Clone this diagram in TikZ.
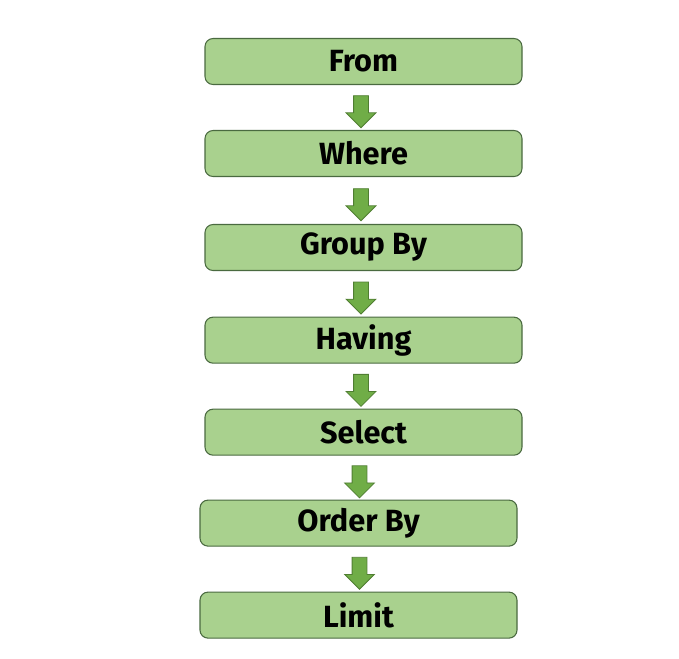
\documentclass[tikz,border=0pt]{standalone}
\usepackage{fontspec}
\setmainfont{Fira Sans}
\usetikzlibrary{shapes.arrows,positioning,calc}
\definecolor{boxfill}{HTML}{A9D18E}
\definecolor{boxline}{HTML}{4A6A40}
\definecolor{arrfill}{HTML}{70AD47}
\definecolor{arrline}{HTML}{507E32}

\begin{document}
\begin{tikzpicture}
		[x=0.75pt, y=-0.75pt,
		boxsty/.style={draw=boxline, fill=boxfill, line width=0.8pt,
			rounded corners=6pt, minimum width=237.75pt, minimum height=34.5pt,
			font=\fontsize{23}{23}\selectfont\bfseries},
		arrsty/.style={single arrow, draw=arrline, fill=arrfill,
			line width=0.6pt, shape border rotate=270, inner sep=5.25pt,
			minimum height=24pt,
			single arrow head extend=5.6pt, single arrow head indent=0pt}]
		\useasboundingbox (0,0) rectangle (679,658);
		\node (box 1) at (363.5, 61.5) [boxsty] {From};
		\node (box 2) [boxsty, below=33.7pt of box 1] {Where};
		\node (box 3) [boxsty, below=35.2pt of box 2] {Group By};
		\node (box 4) [boxsty, below=34.2pt of box 3] {Having};
		\node (box 5) [boxsty, below=33.7pt of box 4] {Select};
		\node (box 6) [boxsty, below=32.9pt of box 5, xshift=-3.75pt] {Order By};
		\node (box 7) [boxsty, below=33.7pt of box 6] {Limit};
		
		\node (arrow 1) at ($(box 1.south)!0.5!(box 2.north)+(-2.5,0.5)$) [arrsty] {};
		\node (arrow 2) at ($(box 2.south)!0.5!(box 3.north)+(-2.5,0.5)$) [arrsty] {};
		\node (arrow 3) at ($(box 3.south)!0.5!(box 4.north)+(-2.5,0.5)$) [arrsty] {};
		\node (arrow 4) at ($(box 4.south)!0.5!(box 5.north)+(-2.5,0.5)$) [arrsty] {};
		\node (arrow 5) at ($(box 5.south)!0.5!(box 6.north)+(-1.5,0.5)$) [arrsty] {};
		\node (arrow 6) at ($(box 6.south)!0.5!(box 7.north)+(1,0.5)$) [arrsty] {};
	\end{tikzpicture}
\end{document}
